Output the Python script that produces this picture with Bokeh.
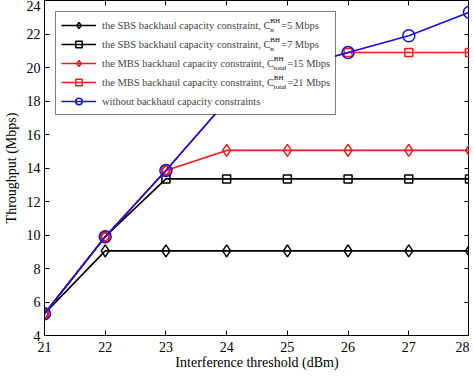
from bokeh.plotting import figure
from bokeh.models import Range1d, LinearAxis, FixedTicker, Legend, LegendItem, ColumnDataSource
from bokeh.core.properties import value
from bokeh.embed import file_html
from bokeh.resources import INLINE

x = [21, 22, 23, 24, 25, 26, 27, 28]
sbs_5 = [5.3, 9.05, 9.05, 9.05, 9.05, 9.05, 9.05, 9.05]
sbs_7 = [5.3, 9.9, 13.35, 13.35, 13.35, 13.35, 13.35, 13.35]
mbs_15 = [5.3, 9.9, 13.85, 15.05, 15.05, 15.05, 15.05, 15.05]
mbs_21 = [5.3, 9.9, 13.85, 18.0, 19.9, 20.9, 20.9, 20.9]
no_con = [5.3, 9.9, 13.85, 18.0, 19.9, 20.9, 21.9, 23.3]

x_ticks = [21, 22, 23, 24, 25, 26, 27, 28]
y_ticks = [4, 6, 8, 10, 12, 14, 16, 18, 20, 22, 24]

NB = "\u00a0"
legend_main = [
    "the SBS backhaul capacity constraint, C",
    "the SBS backhaul capacity constraint, C",
    "the MBS backhaul capacity constraint, C",
    "the MBS backhaul capacity constraint, C",
    "without backhaul capacity constraints",
]
legend_sup = ["BH", "BH", "BH", "BH", ""]
legend_sub = ["n", "n", "total", "total", ""]
legend_tail = ["=5 Mbps", "=7 Mbps", "=15 Mbps", "=21 Mbps", ""]

FONT = "Liberation Serif"
FS = 10.5
SFS = 7
BLACK = "#000000"
RED = "#f01818"
BLUE = "#1010e0"
FW, FH = 425, 335
X0, X1, Y0, Y1 = 21, 28, 4, 24

# Times / Liberation Serif advance widths (1/1000 em)
W = {' ': 250, NB: 250, ',': 250, 'a': 444, 'b': 500, 'c': 444, 'h': 500, 'i': 278,
     'k': 500, 'l': 278, 'n': 500, 'o': 500, 'p': 500, 'r': 333, 's': 389, 't': 278,
     'u': 500, 'y': 500, 'e': 444, 'w': 722, 'S': 556, 'B': 667, 'M': 889, 'C': 667,
     '=': 564, '1': 500, '2': 500, '5': 500, '7': 500}

def text_w(s, fs):
    return sum(W.get(ch, 500) for ch in s) / 1000.0 * fs

p = figure(frame_width=FW, frame_height=FH, output_backend="svg", toolbar_location=None,
           x_range=Range1d(X0, X1), y_range=Range1d(Y0, Y1),
           min_border_left=0, min_border_right=0, min_border_top=0, min_border_bottom=0)
p.grid.visible = False
p.outline_line_color = "black"
p.outline_line_width = 1
p.background_fill_color = "white"
p.border_fill_color = "white"

series = [
    (sbs_5, BLACK, "diamond", 12),
    (sbs_7, BLACK, "square", 8),
    (mbs_15, RED, "diamond", 12),
    (mbs_21, RED, "square", 8),
    (no_con, BLUE, "circle", 12),
]

MARGIN, PAD, GW, STAND, LH, SP = 11, 5, 35, 6, 16, 3

items = []
full_labels = []
for (ys, col, mk, sz), main, sub, tail in zip(series, legend_main, legend_sub, legend_tail):
    lr = p.line(x, ys, line_color=col, line_width=1.6)
    sr = p.scatter(x, ys, marker=mk, size=sz, line_color=col, line_width=1.5, fill_alpha=0)
    gap = NB * (4 if len(sub) == 1 else 5) if sub else ""
    full_labels.append(main + gap + tail)
    items.append(LegendItem(label=main + gap + tail, renderers=[lr, sr]))

def px_to_x(px):
    return X0 + px * (X1 - X0) / FW

def px_to_y(py):
    return Y1 - py * (Y1 - Y0) / FH

# white backing of the legend box (legend itself drawn transparent on top)
box_w = 2 * PAD + GW + STAND + max(text_w(s, FS) for s in full_labels)
box_h = 2 * PAD + len(items) * LH + (len(items) - 1) * SP
p.quad(left=[px_to_x(MARGIN - 0.5)], right=[px_to_x(MARGIN + box_w + 0.5)],
       top=[px_to_y(MARGIN - 0.5)], bottom=[px_to_y(MARGIN + box_h + 0.5)],
       fill_color="white", line_color=None, level="overlay")

sx, sy, st = [], [], []
for i, (main, sup, sub) in enumerate(zip(legend_main, legend_sup, legend_sub)):
    if not sup:
        continue
    xo = MARGIN + PAD + GW + STAND + text_w(main, FS) + 0.3
    yc = MARGIN + PAD + i * (LH + SP) + LH / 2.0
    sx += [px_to_x(xo), px_to_x(xo)]
    sy += [px_to_y(yc - 3.2), px_to_y(yc + 5.8)]
    st += [sup, sub]

script_src = ColumnDataSource(dict(x=sx, y=sy, text=st))
p.text(x="x", y="y", text="text", source=script_src, level="overlay",
       text_font=value(FONT), text_font_size=f"{SFS}px", text_baseline="alphabetic",
       text_align="left", text_color="black")

legend = Legend(items=items, location="top_left", margin=MARGIN,
                label_text_font=FONT, label_text_font_size=f"{FS}px",
                label_height=LH, glyph_height=LH, glyph_width=GW, spacing=SP,
                padding=PAD, label_standoff=STAND,
                border_line_color="black", border_line_width=1,
                background_fill_alpha=0)
p.add_layout(legend, "center")

for ax in [p.xaxis[0], p.yaxis[0]]:
    ax.major_tick_in = 5
    ax.major_tick_out = 0
    ax.minor_tick_line_color = None
    ax.axis_line_color = "black"
    ax.major_label_text_font = FONT
    ax.major_label_text_font_size = "14px"
    ax.major_label_text_color = "black"
    ax.axis_label_text_font = FONT
    ax.axis_label_text_font_size = "14px"
    ax.axis_label_text_font_style = "normal"
    ax.axis_label_text_color = "black"

p.xaxis.ticker = FixedTicker(ticks=x_ticks)
p.yaxis.ticker = FixedTicker(ticks=y_ticks)
p.xaxis.axis_label = "Interference threshold (dBm)"
p.yaxis.axis_label = "Throughput (Mbps)"
p.xaxis.major_label_standoff = 6
p.xaxis.axis_label_standoff = 0
p.yaxis.major_label_standoff = 4
p.yaxis.axis_label_standoff = 5

top = LinearAxis(ticker=FixedTicker(ticks=x_ticks),
                 major_label_overrides={t: "" for t in x_ticks},
                 major_tick_in=5, major_tick_out=0, minor_tick_line_color=None,
                 major_label_standoff=0, axis_line_color="black")
right = LinearAxis(ticker=FixedTicker(ticks=y_ticks),
                   major_label_overrides={t: "" for t in y_ticks},
                   major_tick_in=5, major_tick_out=0, minor_tick_line_color=None,
                   major_label_standoff=0, axis_line_color="black")
p.add_layout(top, "above")
p.add_layout(right, "right")

open("out.html", "w").write(file_html(p, INLINE))
